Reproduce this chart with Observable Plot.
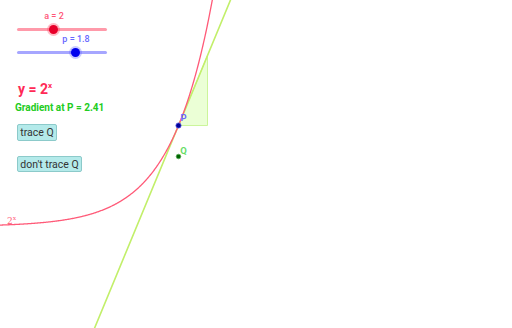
<!DOCTYPE html>
<html>
<head>
<meta charset="utf-8">
<script src="https://cdn.jsdelivr.net/npm/d3@7"></script>
<script src="https://cdn.jsdelivr.net/npm/@observablehq/plot@0.6"></script>
<style>
  html, body { margin: 0; padding: 0; background: #fff; }
  #wrap { position: relative; width: 512px; height: 328px; overflow: hidden; font-family: Roboto, "Noto Sans", sans-serif; }
  #chart { position: absolute; left: 0; top: 0; }
  .ov { position: absolute; white-space: nowrap; }
  .track { position: absolute; height: 3px; border-radius: 2px; }
  .knob { position: absolute; width: 9px; height: 9px; border-radius: 50%; }
  .btn { position: absolute; background: #b4eaea; border: 1px solid #8ccaca; border-radius: 2px; box-sizing: border-box;
         font-size: 10.5px; color: #333; display: flex; align-items: center; justify-content: center; }
</style>
</head>
<body>
<div id="wrap">
  <div id="chart"></div>
</div>
<script>
// ---- data ----
const base = 2;             // a
const pValue = 1.8;         // p
const sliderA = {label: "a = 2", value: 2, min: 0, max: 5};
const sliderP = {label: "p = 1.8", value: 1.8, min: -4, max: 5};
const functionLabel = "y = 2";
const gradientText = "Gradient at P = 2.41";
const buttonLabels = ["trace Q", "don't trace Q"];
const pointLabels = ["P", "Q"];
const xDomain = [-4.338, 13.317];
const yDomain = [-3.517, 7.793];

// ---- derived ----
const f = x => Math.pow(base, x);
const yP = f(pValue);
const grad = Math.log(base) * yP;
const curve = d3.range(xDomain[0] - 0.1, 3.2, 0.02).map(x => ({x, y: f(x)}));
const tangent = [xDomain[0], xDomain[1]].map(x => ({x, y: yP + grad * (x - pValue)}));
const tri = [
  {x: pValue, y: yP},
  {x: pValue + 1, y: yP},
  {x: pValue + 1, y: yP + grad},
  {x: pValue, y: yP}
];
const P = [{x: pValue, y: yP, label: pointLabels[0]}];
const Q = [{x: pValue, y: grad, label: pointLabels[1]}];

const chart = Plot.plot({
  width: 512, height: 328,
  margin: 0,
  x: {domain: xDomain, axis: null},
  y: {domain: yDomain, axis: null},
  style: {background: "transparent"},
  marks: [
    Plot.line(tri, {x: "x", y: "y", fill: "#e6ffcc", fillOpacity: 0.8, stroke: "#ccf59a", strokeWidth: 1}),
    Plot.line(tangent, {x: "x", y: "y", stroke: "#c2ef6a", strokeWidth: 1.6, clip: true}),
    Plot.line(curve, {x: "x", y: "y", stroke: "#ff5a78", strokeWidth: 1.3, clip: true}),
    Plot.dot(Q, {x: "x", y: "y", r: 2.3, fill: "#006400", stroke: "#55aa55", strokeWidth: 0.8}),
    Plot.dot(P, {x: "x", y: "y", r: 2.6, fill: "#000099", stroke: "#5555dd", strokeWidth: 0.8}),
    Plot.text(P, {x: "x", y: "y", text: "label", dx: 5, dy: -8, textAnchor: "middle", fill: "#6b6bff", fontSize: 9.5, fontWeight: "bold", fontFamily: "Roboto, sans-serif"}),
    Plot.text(Q, {x: "x", y: "y", text: "label", dx: 5, dy: -6, textAnchor: "middle", fill: "#66dd66", fontSize: 9.5, fontWeight: "bold", fontFamily: "Roboto, sans-serif"})
  ]
});
document.getElementById("chart").appendChild(chart);

// ---- overlays (GeoGebra controls) ----
const wrap = document.getElementById("wrap");
function add(html) { wrap.insertAdjacentHTML("beforeend", html); }

function slider(s, y, track, knob, halo, labelColor) {
  const x0 = 17, x1 = 107;
  const kx = x0 + (s.value - s.min) / (s.max - s.min) * (x1 - x0);
  add(`<div class="track" style="left:${x0}px;top:${y - 1.5}px;width:${x1 - x0}px;background:${track}"></div>`);
  add(`<div class="knob" style="left:${kx - 4.5}px;top:${y - 4.5}px;background:${knob};box-shadow:0 0 0 2px ${halo}"></div>`);
  add(`<div class="ov" style="left:${kx + 1}px;top:${y - 18}px;transform:translateX(-50%);font-size:9px;font-weight:500;color:${labelColor}">${s.label}</div>`);
}
slider(sliderA, 29, "#ff9aaa", "#e8002a", "rgba(255,60,90,0.35)", "#ff5577");
slider(sliderP, 52, "#a6a6ff", "#0000ee", "rgba(80,80,255,0.3)", "#6666ff");

add(`<div class="ov" style="left:18px;top:81px;font-size:14px;font-weight:bold;color:#ff2a55">${functionLabel}<sup style="font-size:8px">x</sup></div>`);
add(`<div class="ov" style="left:15px;top:102px;font-size:10px;font-weight:bold;color:#22cc22">${gradientText}</div>`);
add(`<div class="btn" style="left:17px;top:124px;width:40px;height:17px">${buttonLabels[0]}</div>`);
add(`<div class="btn" style="left:17px;top:156px;width:65px;height:16px">${buttonLabels[1]}</div>`);
add(`<div class="ov" style="left:7px;top:214px;font-family:'DejaVu Serif',serif;font-size:9px;color:#ff5a78">2<sup style="font-size:6px">x</sup></div>`);
</script>
</body>
</html>
